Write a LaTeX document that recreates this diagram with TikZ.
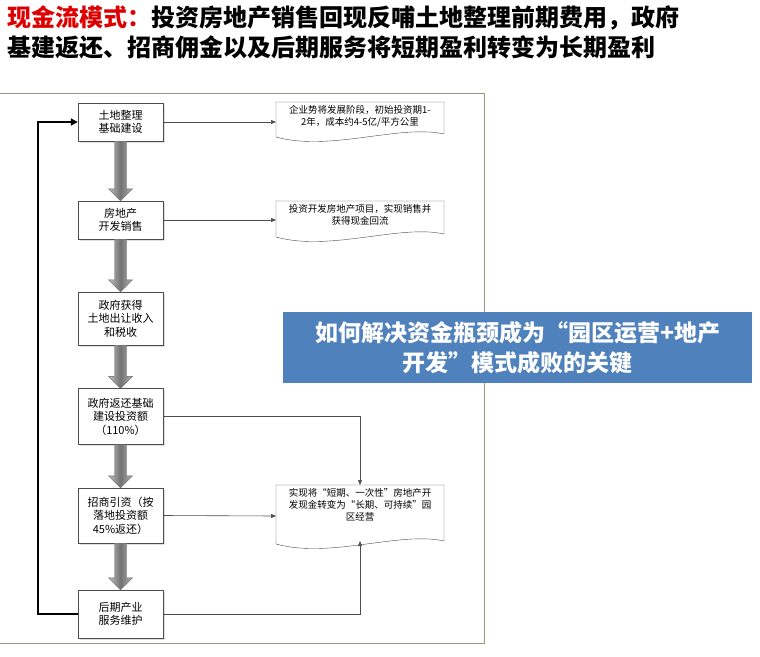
\documentclass[tikz,border=0pt]{standalone}
\usepackage{fontspec}
\setmainfont{Noto Sans CJK SC}
\usetikzlibrary{arrows.meta,calc,shadows}
\begin{document}
\begin{tikzpicture}[x=1pt,y=-1pt,
 stepbox/.style={draw=black!70,fill=white,minimum width=85pt,align=center,font=\fontsize{11}{13.5}\selectfont,inner sep=1pt,drop shadow={shadow xshift=1.5pt,shadow yshift=-1.5pt,fill=black!25}},
 thin/.style={draw=black!70,line width=0.6pt},
 tip/.style={-{Triangle[length=5pt,width=4pt]}}]
\useasboundingbox (0,0) rectangle (760,656);
\node[anchor=west,font=\bfseries\fontsize{24}{28}\selectfont] (t1) at (4,18) {\textcolor[RGB]{220,0,0}{现金流模式：}投资房地产销售回现反哺土地整理前期费用，政府};
\node[anchor=west,font=\bfseries\fontsize{24}{28}\selectfont] (t2) at (4,47) {基建返还、招商佣金以及后期服务将短期盈利转变为长期盈利};
\draw[draw=black!35!yellow!30!gray,line width=0.8pt] (0,93) -- (484,93) -- (484,643) -- (0,643);
\node[stepbox,minimum height=38pt] (b1) at (120.5,122) {土地整理\\基础建设};
\node[stepbox,minimum height=38pt] (b2) at (120.5,220) {房地产\\开发销售};
\node[stepbox,minimum height=53pt] (b3) at (120.5,318.5) {政府获得\\土地出让收入\\和税收};
\node[stepbox,minimum height=56pt] (b4) at (120.5,416.5) {政府返还基础\\建设投资额\\（110\%）};
\node[stepbox,minimum height=55pt] (b5) at (120.5,515.5) {招商引资（按\\落地投资额\\45\%返还）};
\node[stepbox,minimum height=48pt] (b6) at (120.5,614) {后期产业\\服务维护};
\foreach \a/\b in {b1/b2,b2/b3,b3/b4,b4/b5,b5/b6}{
 \path let \p1=(\a.south), \p2=(\b.north) in
 [shade,left color=black!25,right color=black!30,middle color=black!55,draw=black!60]
 (\x1-6,\y1) -- (\x1+6,\y1) -- (\x1+6,\y2+12) -- (\x1+12,\y2+12) -- (\x1,\y2) -- (\x1-12,\y2+12) -- (\x1-6,\y2+12) -- cycle;
}
\foreach \n/\y/\h/\t in {d1/102/38/{企业势将发展阶段，初始投资期1-\\2年，成本约4-5亿/平方公里},d2/201/39/{投资开发房地产项目，实现销售并\\获得现金回流},d3/485/62/{实现将“短期、一次性”房地产开\\发现金转变为“长期、可持续”园\\区经营}}{
 \draw[black!70,fill=white] (276,\y) -- (444,\y) -- (444,\y+\h-6) .. controls (400,\y+\h-16) and (330,\y+\h+12) .. (276,\y+\h-3) -- cycle;
 \node[font=\fontsize{9.5}{12}\selectfont,align=center,anchor=north,inner sep=1pt] (\n) at (360,\y+2) {\t};
}
\coordinate (d1l) at (276,122); \coordinate (d2l) at (276,220);
\coordinate (d3l) at (276,516); \coordinate (d3t) at (360,485); \coordinate (d3b) at (360,541);
\draw[thin,tip] (b1.east) -- (d1l);
\draw[thin,tip] (b2.east) -- (d2l);
\draw[thin,tip] (b4.east) -| (d3t);
\draw[thin,tip] (b5.east) -- (d3l);
\draw[thin,tip] (b6.east) -| (d3b);
\coordinate (lc) at (38,122);
\draw[line width=2pt,-{Triangle[length=7pt,width=7pt]}] (b6.west) -| (lc) -- (b1.west);
\node[fill={rgb,255:red,79;green,129;blue,189},minimum width=469pt,minimum height=71pt,text=white,align=center,font=\bfseries\fontsize{23}{30}\selectfont] (blue) at (517.5,347.5) {如何解决资金瓶颈成为“园区运营+地产\\开发”模式成败的关键};
\end{tikzpicture}
\end{document}
